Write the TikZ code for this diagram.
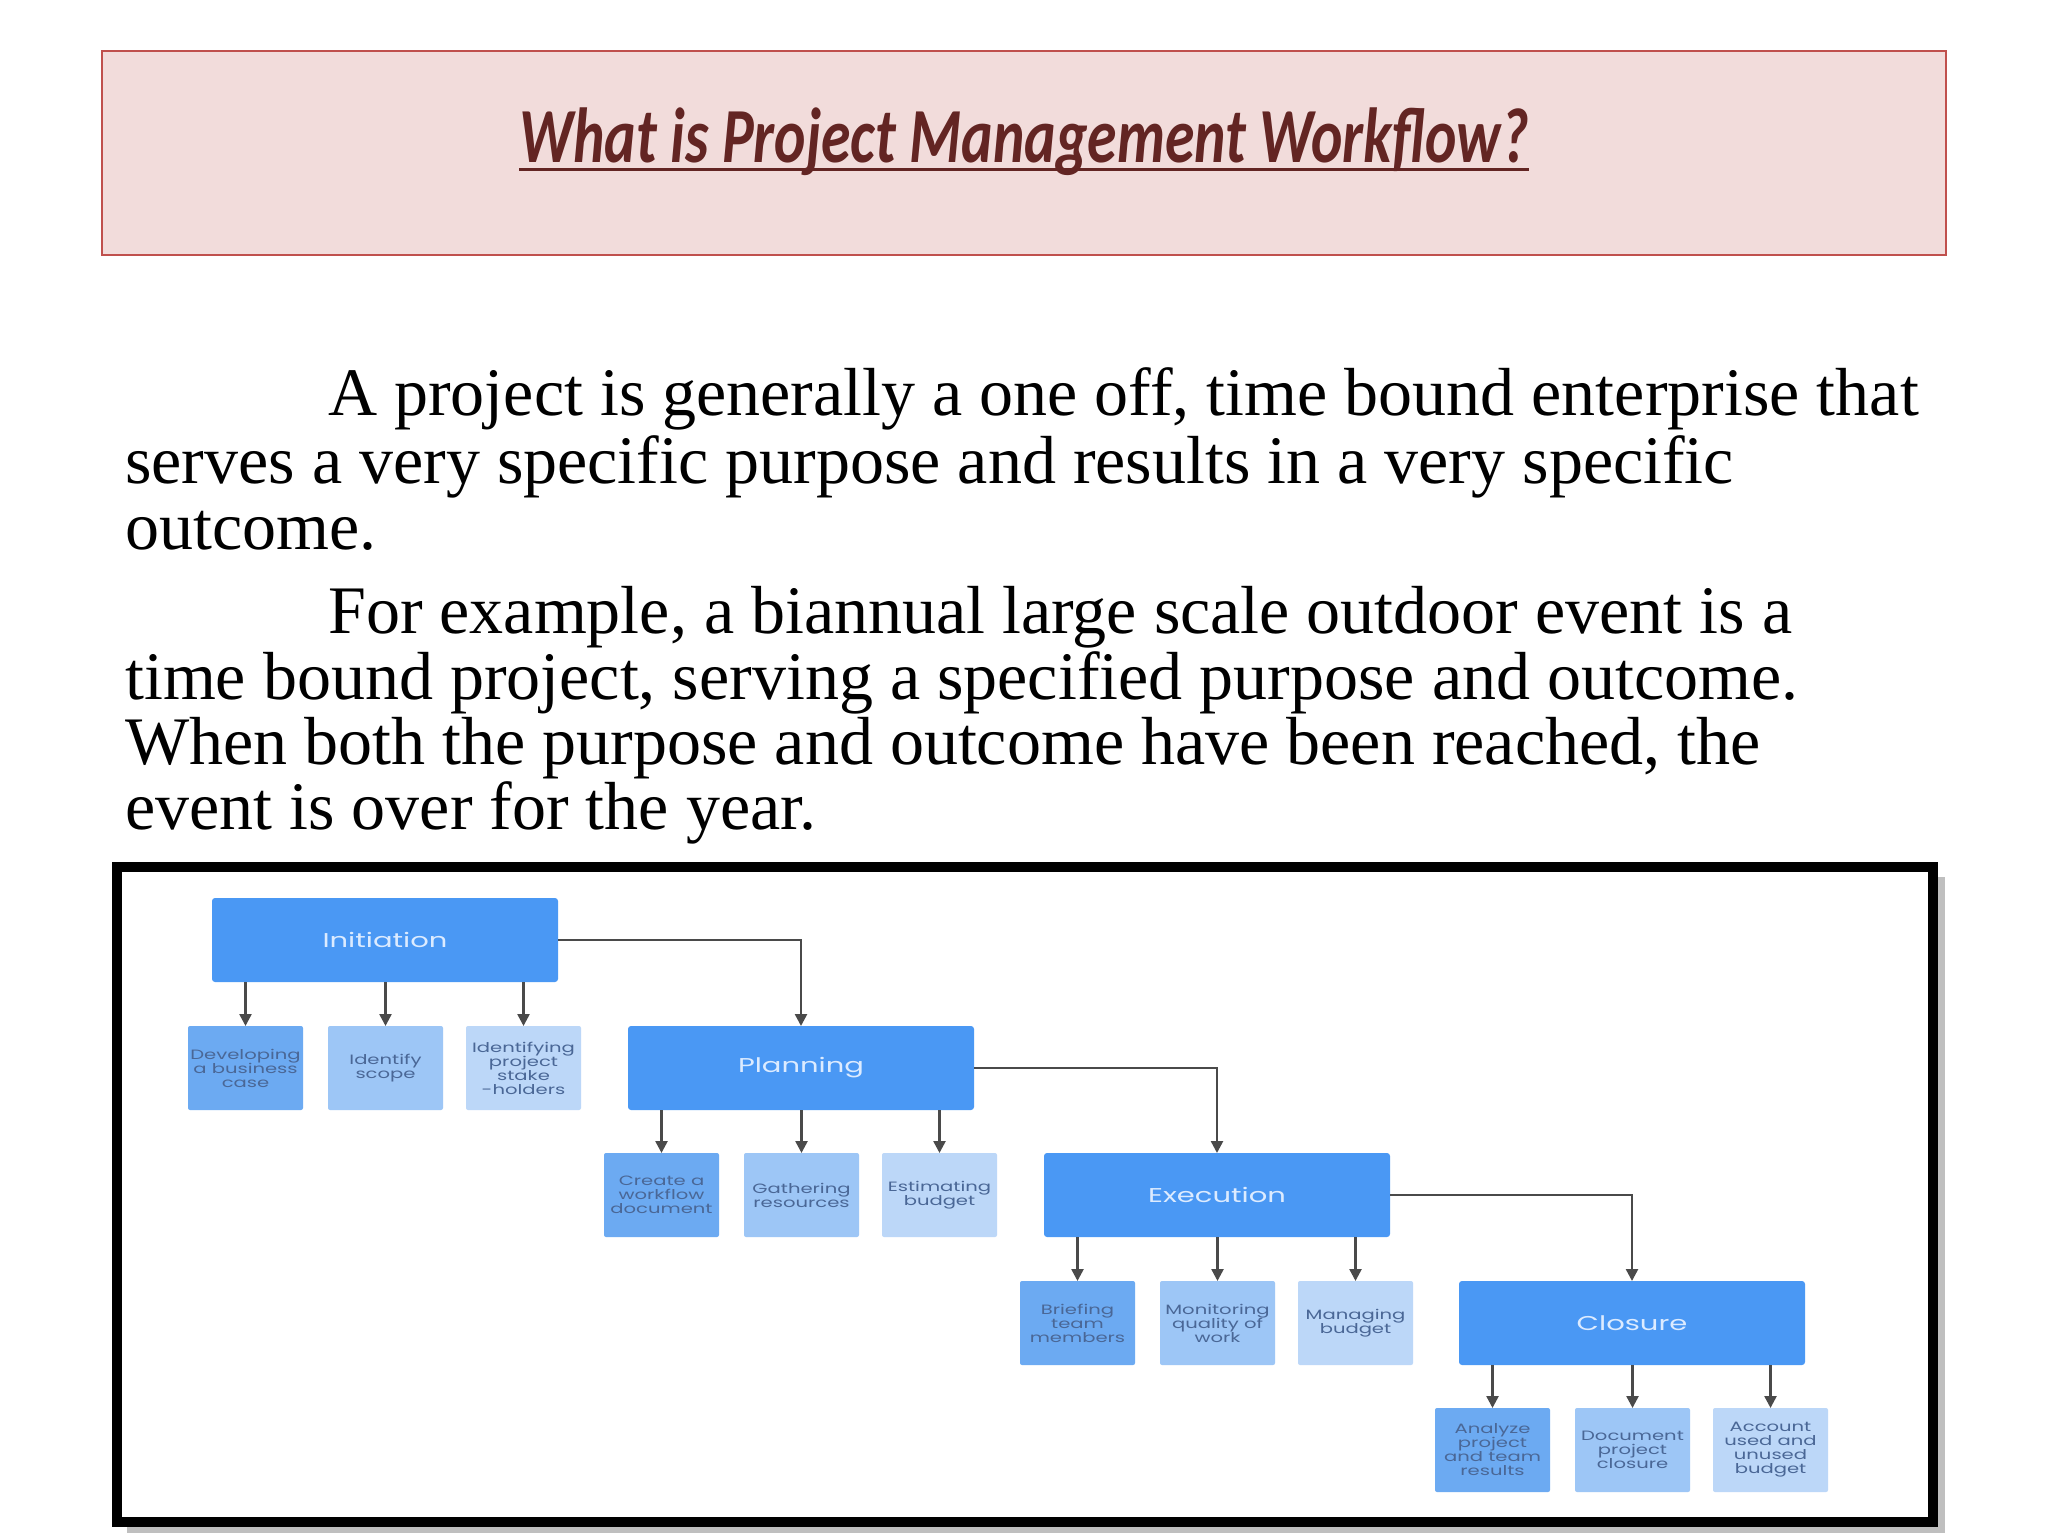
\documentclass[tikz,border=0pt]{standalone}
\usepackage{fontspec}
\usepackage{graphicx}
\setmainfont{Liberation Serif}
\newfontfamily\titlefont{Carlito}
\newfontfamily\diagfont[FakeStretch=1.45]{Poppins}
\usetikzlibrary{arrows.meta}
\definecolor{hdrfill}{HTML}{F2DCDB}
\definecolor{hdrline}{HTML}{C0504D}
\definecolor{titlered}{HTML}{632523}
\definecolor{mainblue}{HTML}{4A98F4}
\definecolor{subA}{HTML}{6CAAF2}
\definecolor{subB}{HTML}{9DC6F6}
\definecolor{subC}{HTML}{BCD7F8}
\definecolor{subtext}{HTML}{4A6796}
\definecolor{maintext}{HTML}{DCEBFF}
\definecolor{arrgrey}{HTML}{4A4A4A}
\tikzset{
 mainbox/.style={fill=mainblue, rounded corners=3pt, minimum width=346pt, minimum height=84pt, inner sep=0pt, outer sep=0pt, anchor=north west, text=maintext, font=\diagfont\fontsize{20}{24}\selectfont},
 subbox/.style={fill=#1, rounded corners=2pt, minimum width=115pt, minimum height=84pt, inner sep=0pt, outer sep=0pt, anchor=north west, text=subtext, align=center, font=\diagfont\fontsize{13.5}{14}\selectfont},
 arr/.style={draw=arrgrey, line width=2.5pt, -{Triangle[length=12pt,width=12pt]}},
 bodytxt/.style={anchor=base west, inner sep=0pt, font=\fontsize{68}{80}\selectfont},
}
\begin{document}
\begin{tikzpicture}[x=1pt,y=-1pt]
\useasboundingbox[fill=white] (0,0) rectangle (2048,1536);
% header
\draw[draw=hdrline, fill=hdrfill, line width=2pt] (102,51) rectangle (1946,255);
\node[anchor=base, inner sep=0pt, text=titlered] (title) at (1024,163)
  {\scalebox{0.765}[1]{\titlefont\bfseries\itshape\fontsize{78}{90}\selectfont What is Project Management Workflow?}};
\draw[titlered, line width=3pt] ([yshift=-6pt]title.base west) -- ([yshift=-6pt]title.base east);
% body text
\node[bodytxt] (p1) at (328,415) {A project is generally a one off, time bound enterprise that};
\node[bodytxt] (p2) at (125,483) {serves a very specific purpose and results in a very specific};
\node[bodytxt] (p3) at (125,549) {outcome.};
\node[bodytxt] (p4) at (328,633) {For example, a biannual large scale outdoor event is a};
\node[bodytxt] (p5) at (125,699) {time bound project, serving a specified purpose and outcome.};
\node[bodytxt] (p6) at (125,764) {When both the purpose and outcome have been reached, the};
\node[bodytxt] (p7) at (125,829) {event is over for the year.};
% frame
\fill[black!25] (127,877) rectangle (1945,1533);
\draw[line width=10pt, fill=white] (117,867) rectangle (1933,1522);
% main boxes
\node[mainbox] (init) at (212,898) {Initiation};
\node[mainbox] (plan) at (628,1026) {Planning};
\node[mainbox] (exec) at (1044,1153) {Execution};
\node[mainbox] (clos) at (1459,1281) {Closure};
% sub boxes
\node[subbox=subA] (a1) at (188,1026) {Developing\\a business\\case};
\node[subbox=subB] (a2) at (328,1026) {Identify\\scope};
\node[subbox=subC] (a3) at (466,1026) {Identifying\\project\\stake\\-holders};
\node[subbox=subA] (b1) at (604,1153) {Create a\\workflow\\document};
\node[subbox=subB] (b2) at (744,1153) {Gathering\\resources};
\node[subbox=subC] (b3) at (882,1153) {Estimating\\budget};
\node[subbox=subA] (c1) at (1020,1281) {Briefing\\team\\members};
\node[subbox=subB] (c2) at (1160,1281) {Monitoring\\quality of\\work};
\node[subbox=subC] (c3) at (1298,1281) {Managing\\budget};
\node[subbox=subA] (d1) at (1435,1408) {Analyze\\project\\and team\\results};
\node[subbox=subB] (d2) at (1575,1408) {Document\\project\\closure};
\node[subbox=subC] (d3) at (1713,1408) {Account\\used and\\unused\\budget};
% arrows to sub boxes
\foreach \m/\s in {init/a1,init/a2,init/a3,plan/b1,plan/b2,plan/b3,exec/c1,exec/c2,exec/c3,clos/d1,clos/d2,clos/d3}
  \draw[arr] (\s.north |- \m.south) -- (\s.north);
% stage connectors
\draw[arr] (init.east) -| (plan.north);
\draw[arr] (plan.east) -| (exec.north);
\draw[arr] (exec.east) -| (clos.north);
\end{tikzpicture}
\end{document}
